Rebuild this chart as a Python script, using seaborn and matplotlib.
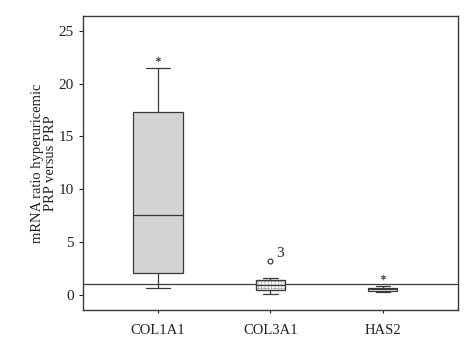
import pandas as pd
import matplotlib
matplotlib.use("Agg")
import matplotlib.pyplot as plt
import matplotlib.patches as mpatches
import seaborn as sns

# five-number summaries (min, q1, median, q3, max)
GENES = ["COL1A1", "COL3A1", "HAS2"]
COL1A1_STATS = [0.65, 2.05, 7.55, 17.35, 21.5]
COL3A1_STATS = [0.12, 0.5, 0.9, 1.4, 1.6]
HAS2_STATS = [0.3, 0.4, 0.55, 0.7, 0.8]

# outliers: (gene, value)
CIRCLE_GENES = ["COL3A1"]
CIRCLE_VALUES = [3.2]
CIRCLE_LABELS = ["3"]
STAR_GENES = ["COL1A1", "HAS2"]
STAR_VALUES = [22.3, 1.65]

REFERENCE_LEVEL = 1.0
Y_TICKS = [0, 5, 10, 15, 20, 25]

EDGE = "#3a3a3a"


def build_frame():
    rows = []
    for gene, stats in zip(GENES, [COL1A1_STATS, COL3A1_STATS, HAS2_STATS]):
        for v in stats:
            rows.append({"gene": gene, "ratio": v})
    return pd.DataFrame(rows)


def main():
    sns.set_theme(style="ticks")
    plt.rcParams["font.family"] = ["Liberation Serif", "DejaVu Serif"]
    plt.rcParams["hatch.linewidth"] = 0.5

    df = build_frame()
    fig = plt.figure(figsize=(4.74, 3.53), dpi=100)
    ax = fig.add_axes([0.175, 0.122, 0.791, 0.833])

    line_kws = dict(color=EDGE, linewidth=0.9)
    common = dict(x="gene", y="ratio", order=GENES, whis=(0, 100),
                  linecolor=EDGE, linewidth=0.9, ax=ax, showfliers=False,
                  medianprops=line_kws, whiskerprops=line_kws, capprops=line_kws)

    sns.boxplot(data=df[df["gene"] == "COL1A1"], width=0.44, color="#d4d4d4", **common)
    sns.boxplot(data=df[df["gene"] != "COL1A1"], width=0.26, color="white", **common)

    # dotted grey pattern on the COL3A1 box, dark outline on top
    for patch in list(ax.patches):
        ext = patch.get_path().get_extents(patch.get_transform())
        xc = ax.transData.inverted().transform(((ext.x0 + ext.x1) / 2, 0))[0]
        if abs(xc - 1) < 0.2:
            patch.set_hatch("+++++")
            patch.set_facecolor("white")
            patch.set_edgecolor("#a8a8a8")
            outline = mpatches.PathPatch(patch.get_path(), transform=patch.get_transform(),
                                         facecolor="none", edgecolor=EDGE, linewidth=0.9,
                                         zorder=patch.get_zorder() + 0.1)
            ax.add_patch(outline)

    ax.axhline(REFERENCE_LEVEL, color=EDGE, linewidth=0.9, zorder=1)

    circ = pd.DataFrame({"gene": CIRCLE_GENES, "ratio": CIRCLE_VALUES})
    sns.scatterplot(data=circ, x="gene", y="ratio", ax=ax, marker="o", s=12,
                    facecolor="white", edgecolor=EDGE, linewidth=0.9, zorder=5)
    for g, v, lab in zip(CIRCLE_GENES, CIRCLE_VALUES, CIRCLE_LABELS):
        ax.text(GENES.index(g) + 0.05, v + 0.1, lab, fontsize=11, color="#222222",
                va="bottom", ha="left")

    stars = pd.DataFrame({"gene": STAR_GENES, "ratio": STAR_VALUES})
    sns.scatterplot(data=stars, x="gene", y="ratio", ax=ax, marker=(6, 2, 0), s=12,
                    color="#666666", linewidth=0.6, zorder=5)

    ax.set_xlim(-0.667, 2.667)
    ax.set_ylim(-1.42, 26.4)
    ax.set_yticks(Y_TICKS)
    ax.set_xlabel("")
    ax.set_ylabel("mRNA ratio hyperuricemic\nPRP versus PRP", fontsize=10.5,
                  color="#222222", labelpad=1, linespacing=1.05)
    ax.tick_params(axis="both", labelsize=10.5, colors="#222222", length=3, width=0.8)
    ax.tick_params(axis="y", labelsize=11)
    ax.tick_params(axis="x", length=2, pad=8)
    for side in ["left", "right", "top", "bottom"]:
        ax.spines[side].set_visible(True)
        ax.spines[side].set_color(EDGE)
        ax.spines[side].set_linewidth(1.0)

    fig.savefig("out.png", dpi=100)
    plt.close(fig)


if __name__ == "__main__":
    main()
